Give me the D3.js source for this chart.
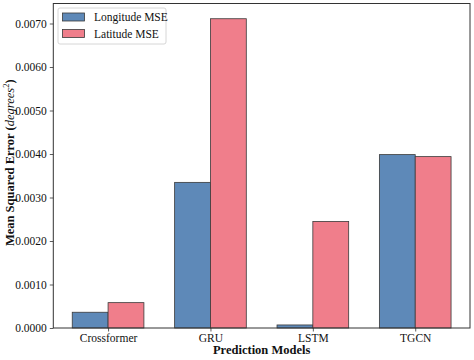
<!DOCTYPE html>
<html><head><meta charset="utf-8">
<script src="https://cdn.jsdelivr.net/npm/d3@7"></script>
<style>body{margin:0;background:#fff}svg{display:block}</style>
</head><body>
<script>
const categories = ["Crossformer", "GRU", "LSTM", "TGCN"];
const seriesNames = ["Longitude MSE", "Latitude MSE"];
const longitudeMSE = [0.000362, 0.003348, 0.00007, 0.003986];
const latitudeMSE = [0.000583, 0.00711, 0.00245, 0.00394];
const yTicks = [0, 0.001, 0.002, 0.003, 0.004, 0.005, 0.006, 0.007];
const colors = ["#5e89b8", "#f07e8b"];

const W = 474, H = 360;
const m = {left: 53.3, right: 4, top: 3.5, bottom: 32};
const iw = W - m.left - m.right, ih = H - m.top - m.bottom;
const svg = d3.select("body").append("svg").attr("width", W).attr("height", H);
const g = svg.append("g").attr("transform", `translate(${m.left},${m.top})`);
const font = "'Liberation Serif','Times New Roman',serif";

const x = d3.scaleLinear().domain([-0.535, 3.535]).range([0, iw]);
const y = d3.scaleLinear().domain([0, 0.00746]).range([ih, 0]);
const bw = 0.35;
const series = [longitudeMSE, latitudeMSE];

series.forEach((vals, si) => {
  g.selectAll(".b" + si).data(vals).enter().append("rect")
    .attr("x", (d, i) => x(i + (si === 0 ? -bw : 0)))
    .attr("width", x(bw) - x(0))
    .attr("y", d => y(d))
    .attr("height", d => y(0) - y(d))
    .attr("fill", colors[si])
    .attr("stroke", "#3a3a3a").attr("stroke-width", 0.8);
});

const yAxis = g.append("g").call(d3.axisLeft(y).tickValues(yTicks).tickFormat(d3.format(".4f")).tickSize(3.5).tickPadding(3));
const xAxis = g.append("g").attr("transform", `translate(0,${ih})`)
  .call(d3.axisBottom(x).tickValues(d3.range(categories.length)).tickFormat(i => categories[i]).tickSize(3.5).tickPadding(2.5));
[yAxis, xAxis].forEach(a => {
  a.select(".domain").remove();
  a.selectAll("line").attr("stroke", "#333").attr("stroke-width", 0.8);
  a.selectAll("text").attr("font-family", font).attr("font-size", 11.5).attr("fill", "#111");
});

g.append("rect").attr("width", iw).attr("height", ih).attr("fill", "none")
  .attr("stroke", "#333").attr("stroke-width", 1);

svg.append("text").attr("x", m.left + iw / 2).attr("y", 354)
  .attr("text-anchor", "middle").attr("font-family", font).attr("font-weight", "bold")
  .attr("font-size", 12.5).attr("fill", "#111").text("Prediction Models");

const yl = svg.append("text").attr("transform", `translate(14,${m.top + ih / 2 - 3}) rotate(-90)`)
  .attr("text-anchor", "middle").attr("font-family", font).attr("font-size", 12.5).attr("fill", "#111");
yl.append("tspan").attr("font-weight", "bold").text("Mean Squared Error (");
yl.append("tspan").attr("font-style", "italic").text("degrees");
yl.append("tspan").attr("font-size", 8.5).attr("dy", -5).text("2");
yl.append("tspan").attr("font-weight", "bold").attr("dy", 5).text(")");

const lg = svg.append("g").attr("transform", "translate(58,8)");
lg.append("rect").attr("width", 108).attr("height", 36).attr("rx", 2)
  .attr("fill", "#fff").attr("fill-opacity", 0.8).attr("stroke", "#ccc").attr("stroke-width", 0.8);
seriesNames.forEach((n, i) => {
  lg.append("rect").attr("x", 4.5).attr("y", 5 + i * 16.5).attr("width", 22).attr("height", 8)
    .attr("fill", colors[i]).attr("stroke", "#3a3a3a").attr("stroke-width", 0.8);
  lg.append("text").attr("x", 36).attr("y", 13 + i * 16.5).attr("font-family", font)
    .attr("font-size", 11.5).attr("fill", "#111").text(n);
});
</script>
</body></html>
